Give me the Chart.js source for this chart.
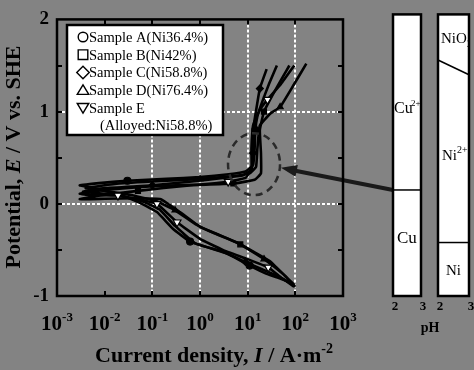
<!DOCTYPE html>
<html lang="en">
<head>
<meta charset="UTF-8">
<title>Polarization curves</title>
<style>
    html, body {
        margin: 0;
        padding: 0;
        background: #838383;
    }
    #wrap {
        width: 474px;
        height: 370px;
    }
</style>
</head>
<body>
<div id="wrap"><canvas id="myChart" width="474" height="370"></canvas></div>

<script src="https://cdn.jsdelivr.net/npm/chart.js"></script>
<script>
    // current density (A/m2) and potential (V vs. SHE)
    const currentA   = [85, 48, 25, 11, 3.7, 0.62, 0.27, 0.125, 0.055, 0.02, 0.006, 0.003, 0.01, 0.03, 0.2, 1, 4, 9, 13, 14, 14.5, 16, 20, 28, 41];
    const potentialA = [-0.86, -0.81, -0.76, -0.67, -0.54, -0.41, -0.27, -0.09, 0.01, 0.1, 0.17, 0.2, 0.23, 0.25, 0.27, 0.29, 0.32, 0.35, 0.42, 0.6, 0.8, 0.95, 1.1, 1.3, 1.5];

    const currentB   = [100, 66, 29, 7, 2.6, 1, 0.38, 0.15, 0.05, 0.01, 0.003, 0.008, 0.05, 0.6, 5, 14, 19, 19, 18, 22, 35, 55, 75];
    const potentialB = [-0.9, -0.8, -0.62, -0.44, -0.34, -0.25, -0.09, 0.05, 0.06, 0.055, 0.05, 0.09, 0.14, 0.2, 0.22, 0.26, 0.33, 0.55, 0.8, 1.0, 1.2, 1.38, 1.5];

    const currentC   = [90, 45, 20, 9, 3, 0.8, 0.3, 0.14, 0.06, 0.015, 0.0035, 0.01, 0.1, 0.6, 3, 8, 12, 13, 13, 18, 25];
    const potentialC = [-0.88, -0.79, -0.71, -0.63, -0.52, -0.43, -0.24, -0.06, 0.03, 0.1, 0.13, 0.17, 0.2, 0.24, 0.28, 0.31, 0.37, 0.55, 0.8, 1.25, 1.46];

    const currentD   = [95, 55, 22, 6, 2, 0.8, 0.3, 0.12, 0.04, 0.01, 0.004, 0.02, 0.2, 1, 5, 11, 15, 16, 18, 30, 48, 90, 170];
    const potentialD = [-0.88, -0.76, -0.6, -0.42, -0.32, -0.22, -0.07, 0.03, 0.09, 0.14, 0.17, 0.22, 0.25, 0.27, 0.3, 0.33, 0.4, 0.6, 0.85, 0.98, 1.05, 1.28, 1.52];

    const currentE   = [95, 50, 27, 10, 3, 1, 0.33, 0.125, 0.05, 0.019, 0.004, 0.003, 0.01, 0.1, 1, 3.9, 9, 12, 12, 13, 18, 26, 50, 95];
    const potentialE = [-0.9, -0.8, -0.69, -0.6, -0.5, -0.38, -0.2, 0.0, 0.05, 0.09, 0.1, 0.11, 0.15, 0.19, 0.21, 0.24, 0.28, 0.38, 0.6, 0.85, 1.02, 1.13, 1.3, 1.5];

    // symbols on the curves
    const markCurrentA = [0.03, 0.62, 11, 14.5];
    const markPotentialA = [0.25, -0.41, -0.67, 0.8];
    const markCurrentB = [7, 0.05, 5, 22];
    const markPotentialB = [-0.44, 0.14, 0.22, 1.0];
    const markCurrentC = [9, 0.1, 13, 18];
    const markPotentialC = [-0.63, 0.2, 0.55, 1.25];
    const markCurrentD = [22, 0.3, 1, 48];
    const markPotentialD = [-0.6, -0.07, 0.27, 1.05];
    const markCurrentE = [0.019, 0.125, 0.33, 3.9, 27, 26];
    const markPotentialE = [0.09, 0.0, -0.2, 0.24, -0.69, 1.13];

    const sampleLabels = ['Sample A(Ni36.4%)', 'Sample B(Ni42%)', 'Sample C(Ni58.8%)', 'Sample D(Ni76.4%)', 'Sample E'];
    const sampleNote = '(Alloyed:Ni58.8%)';
    const sampleSymbols = ['circle', 'rect', 'rectRot', 'triangle', 'triangleDown'];

    const xTickExponents = [-3, -2, -1, 0, 1, 2, 3];
    const gridCurrents = [0.1, 1, 10, 100];
    const gridPotentials = [0, 1];
    const tickPotentials = [-0.5, 0, 0.5, 1, 1.5];
    const tickCurrents = [0.01, 0.1, 1, 10, 100];

    // potential-pH strips (pH 2 to 3)
    const cuBoundary = 0.15;          // Cu / Cu2+
    const niBoundary = -0.42;         // Ni / Ni2+
    const nio2Boundary = [1.56, 1.40]; // Ni2+ / NiO2 at pH 2 and 3
    const phTicks = ['2', '3'];

    // dashed ring around the passivation region
    const ringCurrent = 13.6;
    const ringPotential = 0.43;
    const arrowTipCurrent = 50;
    const arrowTipPotential = 0.39;

    const serif = '"Liberation Serif", "Times New Roman", serif';

    function points(xs, ys) {
        return xs.map((x, i) => ({ x: x, y: ys[i] }));
    }

    function lineSet(xs, ys) {
        return {
            data: points(xs, ys),
            showLine: true,
            borderColor: '#000',
            borderWidth: 2.6,
            pointRadius: 0,
            tension: 0.1,
            order: 2
        };
    }

    function markSet(xs, ys, style, fill, r) {
        return {
            data: points(xs, ys),
            showLine: false,
            pointStyle: style === 'triangleDown' ? 'triangle' : style,
            rotation: style === 'triangleDown' ? 180 : 0,
            pointRadius: r,
            pointBackgroundColor: fill,
            pointBorderColor: '#000',
            pointBorderWidth: 1.2,
            order: 1
        };
    }

    function drawSymbol(ctx, style, x, y, r) {
        ctx.beginPath();
        if (style === 'circle') {
            ctx.arc(x, y, r, 0, Math.PI * 2);
        } else if (style === 'rect') {
            ctx.rect(x - r, y - r, 2 * r, 2 * r);
        } else if (style === 'rectRot') {
            const d = r * 1.3;
            ctx.moveTo(x, y - d); ctx.lineTo(x + d, y); ctx.lineTo(x, y + d); ctx.lineTo(x - d, y); ctx.closePath();
        } else if (style === 'triangle') {
            ctx.moveTo(x, y - r * 1.1); ctx.lineTo(x + r * 1.2, y + r * 0.9); ctx.lineTo(x - r * 1.2, y + r * 0.9); ctx.closePath();
        } else {
            ctx.moveTo(x, y + r * 1.1); ctx.lineTo(x + r * 1.2, y - r * 0.9); ctx.lineTo(x - r * 1.2, y - r * 0.9); ctx.closePath();
        }
        ctx.stroke();
    }

    // text made of pieces with their own font and vertical shift
    function drawPieces(ctx, pieces, x, y) {
        let total = 0;
        pieces.forEach(p => { ctx.font = p.font; total += ctx.measureText(p.text).width; });
        let cx = x - total / 2;
        ctx.textAlign = 'left';
        pieces.forEach(p => {
            ctx.font = p.font;
            ctx.fillText(p.text, cx, y + (p.dy || 0));
            cx += ctx.measureText(p.text).width;
        });
    }

    const backgroundPlugin = {
        id: 'background',
        beforeDraw(chart) {
            const ctx = chart.ctx;
            ctx.save();
            ctx.fillStyle = '#838383';
            ctx.fillRect(0, 0, chart.width, chart.height);
            ctx.restore();
        }
    };

    const gridPlugin = {
        id: 'whiteGrid',
        beforeDatasetsDraw(chart) {
            const { ctx, chartArea: a, scales: { x, y } } = chart;
            ctx.save();
            ctx.strokeStyle = '#fff';
            ctx.lineWidth = 2;
            ctx.setLineDash([3, 2]);
            gridCurrents.forEach(v => {
                const px = Math.round(x.getPixelForValue(v));
                ctx.beginPath(); ctx.moveTo(px, a.top); ctx.lineTo(px, a.bottom); ctx.stroke();
            });
            gridPotentials.forEach(v => {
                const py = Math.round(y.getPixelForValue(v));
                ctx.beginPath(); ctx.moveTo(a.left, py); ctx.lineTo(a.right, py); ctx.stroke();
            });
            ctx.restore();
        }
    };

    const framePlugin = {
        id: 'frame',
        afterDatasetsDraw(chart) {
            const { ctx, chartArea: a, scales: { x, y } } = chart;
            ctx.save();

            // dashed ring and arrow
            const cx = x.getPixelForValue(ringCurrent);
            const cy = y.getPixelForValue(ringPotential);
            ctx.strokeStyle = '#2a2a2a';
            ctx.lineWidth = 2.5;
            ctx.setLineDash([7, 5]);
            ctx.beginPath();
            ctx.ellipse(cx, cy, 26, 31, 0, 0, Math.PI * 2);
            ctx.stroke();
            ctx.setLineDash([]);

            const tx = x.getPixelForValue(arrowTipCurrent);
            const ty = y.getPixelForValue(arrowTipPotential);
            const sx = 393;
            const sy = y.getPixelForValue(cuBoundary);
            const ang = Math.atan2(ty - sy, tx - sx);
            ctx.strokeStyle = '#1a1a1a';
            ctx.fillStyle = '#1a1a1a';
            ctx.lineWidth = 4;
            ctx.beginPath();
            ctx.moveTo(sx, sy);
            ctx.lineTo(tx - 12 * Math.cos(ang), ty - 12 * Math.sin(ang));
            ctx.stroke();
            ctx.beginPath();
            ctx.moveTo(tx, ty);
            ctx.lineTo(tx - 16 * Math.cos(ang) + 6 * Math.sin(ang), ty - 16 * Math.sin(ang) - 6 * Math.cos(ang));
            ctx.lineTo(tx - 16 * Math.cos(ang) - 6 * Math.sin(ang), ty - 16 * Math.sin(ang) + 6 * Math.cos(ang));
            ctx.closePath();
            ctx.fill();

            // frame and inward ticks
            ctx.strokeStyle = '#000';
            ctx.lineWidth = 2.5;
            ctx.strokeRect(a.left, a.top, a.right - a.left, a.bottom - a.top);
            ctx.lineWidth = 2;
            tickCurrents.forEach(v => {
                const px = Math.round(x.getPixelForValue(v));
                ctx.beginPath();
                ctx.moveTo(px, a.top); ctx.lineTo(px, a.top + 5);
                ctx.moveTo(px, a.bottom); ctx.lineTo(px, a.bottom - 5);
                ctx.stroke();
            });
            tickPotentials.forEach(v => {
                const py = Math.round(y.getPixelForValue(v));
                ctx.beginPath();
                ctx.moveTo(a.left, py); ctx.lineTo(a.left + 5, py);
                ctx.moveTo(a.right, py); ctx.lineTo(a.right - 5, py);
                ctx.stroke();
            });

            // x tick labels with exponents
            ctx.fillStyle = '#000';
            ctx.textBaseline = 'alphabetic';
            xTickExponents.forEach(e => {
                const px = x.getPixelForValue(Math.pow(10, e));
                drawPieces(ctx, [
                    { text: '10', font: 'bold 21px ' + serif },
                    { text: String(e), font: 'bold 13px ' + serif, dy: -9 }
                ], px, 330);
            });

            // axis titles
            drawPieces(ctx, [
                { text: 'Current density, ', font: 'bold 22px ' + serif },
                { text: 'I', font: 'italic bold 22px ' + serif },
                { text: ' / A\u00b7m', font: 'bold 22px ' + serif },
                { text: '-2', font: 'bold 14px ' + serif, dy: -9 }
            ], 214, 362);

            ctx.save();
            ctx.translate(20, 157);
            ctx.rotate(-Math.PI / 2);
            drawPieces(ctx, [
                { text: 'Potential, ', font: 'bold 22px ' + serif },
                { text: 'E', font: 'italic bold 22px ' + serif },
                { text: ' / V vs. SHE', font: 'bold 22px ' + serif }
            ], 0, 0);
            ctx.restore();

            // legend box
            ctx.fillStyle = '#fff';
            ctx.fillRect(67, 25, 156, 110);
            ctx.strokeStyle = '#000';
            ctx.lineWidth = 2.5;
            ctx.strokeRect(67, 25, 156, 110);
            ctx.lineWidth = 1.4;
            ctx.fillStyle = '#000';
            ctx.font = '14.5px ' + serif;
            ctx.textAlign = 'left';
            ctx.textBaseline = 'middle';
            sampleLabels.forEach((t, i) => {
                const ry = 37 + i * 17.7;
                drawSymbol(ctx, sampleSymbols[i], 83, ry, 4.8);
                ctx.fillText(t, 89, ry + 1);
            });
            ctx.fillText(sampleNote, 100, 37 + 5 * 17.7 + 1);

            ctx.restore();
        }
    };

    const stripPlugin = {
        id: 'strips',
        afterDraw(chart) {
            const { ctx, chartArea: a, scales: { y } } = chart;
            const top = a.top - 5;
            const bottom = a.bottom;
            ctx.save();

            const strips = [
                { left: 393, right: 421 },
                { left: 438, right: 469 }
            ];
            strips.forEach(s => {
                ctx.fillStyle = '#fff';
                ctx.fillRect(s.left, top, s.right - s.left, bottom - top);
            });

            ctx.strokeStyle = '#000';
            ctx.lineWidth = 1.5;
            const cuY = y.getPixelForValue(cuBoundary);
            ctx.beginPath(); ctx.moveTo(393, cuY); ctx.lineTo(421, cuY); ctx.stroke();
            const niY = y.getPixelForValue(niBoundary);
            ctx.beginPath(); ctx.moveTo(438, niY); ctx.lineTo(469, niY); ctx.stroke();
            ctx.beginPath();
            ctx.moveTo(438, y.getPixelForValue(nio2Boundary[0]));
            ctx.lineTo(469, y.getPixelForValue(nio2Boundary[1]));
            ctx.stroke();

            // species names, clipped to each strip
            ctx.fillStyle = '#000';
            ctx.textAlign = 'left';
            ctx.textBaseline = 'alphabetic';
            ctx.save();
            ctx.beginPath(); ctx.rect(393, top, 29, bottom - top); ctx.clip();
            ctx.font = '16px ' + serif;
            ctx.fillText('Cu', 394, 113);
            ctx.font = '9px ' + serif;
            ctx.fillText('2+', 411, 106);
            ctx.font = '17px ' + serif;
            ctx.fillText('Cu', 397, 243);
            ctx.restore();

            ctx.save();
            ctx.beginPath(); ctx.rect(438, top, 31, bottom - top); ctx.clip();
            ctx.font = '15px ' + serif;
            ctx.fillText('NiO', 441, 43);
            ctx.font = '10px ' + serif;
            ctx.fillText('2', 467, 47);
            ctx.font = '15px ' + serif;
            ctx.fillText('Ni', 442, 160);
            ctx.font = '10px ' + serif;
            ctx.fillText('2+', 457, 153);
            ctx.font = '15px ' + serif;
            ctx.fillText('Ni', 446, 275);
            ctx.restore();

            ctx.strokeStyle = '#000';
            ctx.lineWidth = 2.5;
            strips.forEach(s => {
                ctx.strokeRect(s.left, top, s.right - s.left, bottom - top);
            });

            // pH ticks
            ctx.font = 'bold 13px ' + serif;
            ctx.textAlign = 'center';
            strips.forEach(s => {
                ctx.fillText(phTicks[0], s.left + 2, 310);
                ctx.fillText(phTicks[1], s.right + 2, 310);
            });
            ctx.font = 'bold 14px ' + serif;
            ctx.fillText('pH', 430, 332);

            ctx.restore();
        }
    };

    new Chart(document.getElementById('myChart'), {
        type: 'scatter',
        data: {
            datasets: [
                markSet(markCurrentA, markPotentialA, 'circle', '#000', 3.5),
                markSet(markCurrentB, markPotentialB, 'rect', '#000', 3.5),
                markSet(markCurrentC, markPotentialC, 'rectRot', '#000', 3.5),
                markSet(markCurrentD, markPotentialD, 'triangle', '#000', 3.5),
                markSet(markCurrentE, markPotentialE, 'triangleDown', '#fff', 4.5),
                lineSet(currentA, potentialA),
                lineSet(currentB, potentialB),
                lineSet(currentC, potentialC),
                lineSet(currentD, potentialD),
                lineSet(currentE, potentialE)
            ]
        },
        options: {
            responsive: false,
            animation: false,
            layout: {
                padding: { left: 0, right: 131, top: 12, bottom: 0 }
            },
            plugins: {
                legend: { display: false },
                tooltip: { enabled: false }
            },
            scales: {
                x: {
                    type: 'logarithmic',
                    min: 1e-3,
                    max: 1e3,
                    ticks: { display: false },
                    grid: { display: false, drawTicks: false },
                    border: { display: false },
                    afterFit(scale) { scale.height = 74; }
                },
                y: {
                    min: -1,
                    max: 2,
                    ticks: {
                        stepSize: 0.5,
                        padding: 8,
                        color: '#000',
                        font: { family: serif, size: 19, weight: 'bold' },
                        callback: v => Number.isInteger(v) ? String(v) : ''
                    },
                    grid: { display: false, drawTicks: false },
                    border: { display: false },
                    afterFit(scale) { scale.width = 57; }
                }
            }
        },
        plugins: [backgroundPlugin, gridPlugin, framePlugin, stripPlugin]
    });
</script>
</body>
</html>
